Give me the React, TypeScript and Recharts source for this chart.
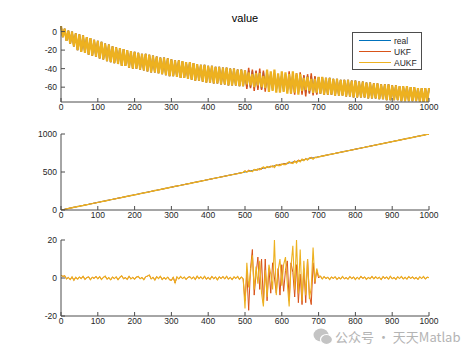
import { Legend, Line, LineChart, XAxis, YAxis } from 'recharts';

// sample index, every 5th step of the 1000-step run
const steps = Array.from({ length: 201 }, (_, i) => i * 5);
const xTicks = [0, 100, 200, 300, 400, 500, 600, 700, 800, 900, 1000];

// state 1 (top panel), alternating peaks/troughs of the oscillation
const realTop = [
  6, -6, 3, -10, 1, -13, 0, -16, -2, -20,
  -3, -22, -4, -23, -6, -25, -7, -26, -9, -27,
  -10, -29, -11, -30, -13, -32, -14, -33, -16, -34,
  -17, -35, -18, -37, -19, -37, -20, -39, -21, -40,
  -22, -40, -23, -41, -24, -42, -24, -43, -25, -44,
  -26, -44, -27, -45, -28, -46, -28, -47, -29, -48,
  -30, -48, -31, -49, -31, -50, -32, -50, -33, -51,
  -33, -52, -34, -53, -35, -53, -36, -54, -36, -55,
  -37, -55, -37, -56, -38, -56, -38, -57, -39, -57,
  -39, -58, -40, -58, -40, -58, -41, -59, -41, -59,
  -42, -60, -42, -60, -43, -61, -43, -61, -44, -62,
  -44, -62, -44, -63, -45, -63, -45, -63, -46, -64,
  -46, -64, -46, -64, -47, -65, -47, -65, -47, -65,
  -47, -66, -48, -66, -48, -66, -48, -67, -49, -67,
  -49, -67, -49, -68, -50, -68, -50, -68, -51, -69,
  -51, -69, -52, -69, -52, -70, -52, -70, -53, -71,
  -53, -71, -54, -71, -54, -71, -55, -72, -55, -72,
  -56, -72, -56, -73, -57, -73, -57, -74, -57, -74,
  -58, -74, -58, -74, -59, -75, -59, -75, -59, -75,
  -60, -75, -60, -75, -61, -76, -61, -76, -61, -76, -61,
];

// estimate deviations on state 1 during the disturbed window (steps 500..700)
const ukfDevTop = [0, -2, 3, -1, 2, -3, 1, -2, 4, -1, 2, -3, 1, 3, -2, 2, -4, 1, -2, 3, -1, 2, -3, 1, 4, -2, 1, -3, 2, -1, 3, -2, 1, -4, 2, -1, 3, -2, 1, -1, 0];
const aukfDevTop = [0, 3, -2, 2, -3, 1, -2, 3, -1, 2, -4, 1, 3, -2, 2, -1, 4, -3, 1, -2, 3, -1, 2, -3, 1, -2, 4, -1, 2, -3, 1, 2, -2, 3, -1, 2, -3, 1, -2, 1, 0];

// estimation error on state 2 (bottom panel)
const errBefore = [
  1.5, 0.8, 1.2, -0.5, 0.3, -0.8, 0.6, -1.2, 0.4, -0.6,
  0.5, -0.3, 0.9, -0.7, 0.2, 0.6, -0.9, 0.4, -0.2, 0.8,
  -0.5, 0.7, -0.8, 0.3, 1.0, -0.6, 0.2, -1.0, 0.5, -0.3,
  0.6, -0.9, 0.4, 1.1, -0.4, 0.2, -0.7, 0.9, -0.5, 0.3,
  -0.6, 0.5, 0.8, -0.4, 0.3, -0.9, 0.6, 1.0, 1.6, -0.5,
  0.4, -1.1, 0.7, -0.3, 0.9, -0.8, 0.2, -0.6, 0.5, -0.9,
  -1.2, 0.4, -2.6, 0.6, -0.5, 0.8, -0.3, 0.5, -0.7, 0.3,
  0.7, -0.4, 0.5, -0.8, 1.0, -0.3, 0.6, -0.5, 0.9, -0.6,
  0.3, -0.7, 0.8, -0.4, 0.5, -1.0, 0.6, -0.3, 0.7, -0.5,
  0.9, -0.6, 0.4, -0.8, 0.6, -0.2, 0.8, -0.7, 0.5, -0.4,
];
const errUkfBurst = [-12, 3, -17, 5, 15, -9, 2, 11, -6, 10, -13, 10, -12, 5, -8, 8, 0, -8, 5, -9, 7, -7, 4, 9, -12, 8, 3, -10, 7, -13, 2, -14, 5, -13, 10, -9, -14, 8, -3, 4, 0];
const errAukfBurst = [-16, 8, -5, 3, 12, -6, 6, -3, 9, -8, -15, 4, -10, 7, 2, -6, 20, -9, 4, 10, -4, 7, 11, -3, -15, 6, 17, -6, 20, -8, 15, -12, 9, -9, 10, -11, -5, 16, -2, 5, 1];
const errAfter = [
  1.0, -0.5, 0.7, -0.3, 0.4, -0.8, 0.5, -0.2, 0.6, -0.7,
  0.3, -0.5, 0.8, -0.4, 0.2, -0.6, 0.7, -0.3, 0.5, -0.8,
  0.4, -0.6, 0.9, -0.2, 0.5, -0.7, 0.3, -0.4, 0.8, -0.5,
  0.6, -0.3, 0.4, -0.8, 0.7, -0.2, 0.5, -0.6, 0.9, -0.4,
  0.3, -0.7, 0.6, -0.3, 0.8, -0.5, 0.4, -0.6, 0.7, -0.2,
  0.5, -0.4, 0.3, -0.7, 0.6, -0.3, 0.8, -0.5, 0.4, 0.2,
];

const errUkf = [...errBefore, ...errUkfBurst, ...errAfter];
const errAukf = [...errBefore, ...errAukfBurst, ...errAfter];

const BURST_START = 100;
const dev = (arr: number[], i: number) => (i >= BURST_START && i < BURST_START + arr.length ? arr[i - BURST_START] : 0);

const topData = steps.map((t, i) => ({
  t,
  real: realTop[i],
  ukf: realTop[i] + dev(ukfDevTop, i),
  aukf: realTop[i] + dev(aukfDevTop, i),
}));
// state 2 grows with the step count; the estimates carry the bottom-panel error
const midData = steps.map((t, i) => ({ t, real: t, ukf: t - errUkf[i], aukf: t - errAukf[i] }));
const errData = steps.map((t, i) => ({ t, ukf: errUkf[i], aukf: errAukf[i] }));

const BLUE = '#0072BD';
const ORANGE = '#D95319';
const YELLOW = '#EDB120';
const AXIS = '#4d4d4d';
const FONT = '"Liberation Sans", Arial, sans-serif';
const tickStyle = { fontSize: 8.5, fill: '#262626', fontFamily: FONT };

const legendItems = [
  { name: 'real', color: BLUE },
  { name: 'UKF', color: ORANGE },
  { name: 'AUKF', color: YELLOW },
];

const renderLegend = () => (
  <div style={{ width: 70, height: 38, boxSizing: 'border-box', border: `1px solid ${AXIS}`, background: '#fff', paddingTop: 2 }}>
    {legendItems.map((p) => (
      <div key={p.name} style={{ display: 'flex', alignItems: 'center', height: 11 }}>
        <span style={{ display: 'inline-block', width: 32, height: 1, marginLeft: 6, marginRight: 3, background: p.color }} />
        <span style={{ fontSize: 8.5, fontFamily: FONT, color: '#262626' }}>{p.name}</span>
      </div>
    ))}
  </div>
);

interface PanelProps {
  top: number;
  data: any[];
  domain: [number, number];
  ticks: number[];
  withReal?: boolean;
  legend?: boolean;
  lineWidth?: number;
  topWidth?: number;
}

function Panel({ top, data, domain, ticks, withReal = true, legend = false, lineWidth = 1, topWidth = 1 }: PanelProps) {
  return (
    <div style={{ position: 'absolute', left: 0, top }}>
      <LineChart width={474} height={120} data={data} margin={{ top: 26, right: 45, bottom: 0, left: 0 }}>
        <XAxis xAxisId="b" dataKey="t" type="number" domain={[0, 1000]} ticks={xTicks} height={18}
          axisLine={{ stroke: AXIS }} tickLine={{ stroke: AXIS }} tickSize={-4} tickMargin={6} tick={tickStyle} interval={0} />
        <XAxis xAxisId="tp" dataKey="t" type="number" orientation="top" domain={[0, 1000]} ticks={xTicks} height={0}
          axisLine={{ stroke: AXIS }} tickLine={{ stroke: AXIS }} tickSize={-4} tick={false} />
        <YAxis yAxisId="l" type="number" domain={domain} ticks={ticks} width={61} allowDataOverflow
          axisLine={{ stroke: AXIS }} tickLine={{ stroke: AXIS }} tickSize={-4} tickMargin={8} tick={tickStyle} interval={0} />
        <YAxis yAxisId="r" type="number" orientation="right" domain={domain} ticks={ticks} width={0} allowDataOverflow
          axisLine={{ stroke: AXIS }} tickLine={{ stroke: AXIS }} tickSize={-4} tick={false} />
        {withReal && (
          <Line xAxisId="b" yAxisId="l" dataKey="real" name="real" stroke={BLUE} strokeWidth={lineWidth} dot={false} isAnimationActive={false} />
        )}
        <Line xAxisId="b" yAxisId="l" dataKey="ukf" name="UKF" stroke={ORANGE} strokeWidth={lineWidth} dot={false} isAnimationActive={false} />
        <Line xAxisId="b" yAxisId="l" dataKey="aukf" name="AUKF" stroke={YELLOW} strokeWidth={topWidth} dot={false} isAnimationActive={false} />
        {legend && (
          <Legend layout="vertical" align="center" verticalAlign="middle" content={renderLegend}
            wrapperStyle={{ position: 'absolute', left: 352, top: 32, width: 70, height: 38 }} />
        )}
      </LineChart>
    </div>
  );
}

export default function App() {
  return (
    <div style={{ position: 'absolute', left: 0, top: 0, width: 474, height: 355, background: '#fff', overflow: 'hidden' }}>
      <div style={{ position: 'absolute', left: 0, width: 490, top: 12, textAlign: 'center', fontFamily: FONT, fontSize: 11, color: '#000' }}>
        value
      </div>
      <Panel top={0} data={topData} domain={[-76, 6]} ticks={[-60, -40, -20, 0]} legend lineWidth={1.5} topWidth={2.2} />
      <Panel top={108} data={midData} domain={[0, 1000]} ticks={[0, 500, 1000]} topWidth={1.4} />
      <Panel top={214} data={errData} domain={[-20, 20]} ticks={[-20, 0, 20]} withReal={false} topWidth={1.1} />
      <svg style={{ position: 'absolute', left: 313, top: 328 }} width={20} height={18}>
        <ellipse cx={8} cy={7} rx={7.5} ry={6.5} fill="#c4c4c4" />
        <ellipse cx={13.5} cy={11.5} rx={6} ry={5} fill="#c4c4c4" stroke="#fff" strokeWidth={1.2} />
      </svg>
      <div style={{ position: 'absolute', left: 335, top: 327, fontFamily: '"Noto Sans CJK SC", sans-serif', fontSize: 13, color: '#b4b4b4', whiteSpace: 'nowrap' }}>
        公众号 · 天天Matlab
      </div>
    </div>
  );
}
